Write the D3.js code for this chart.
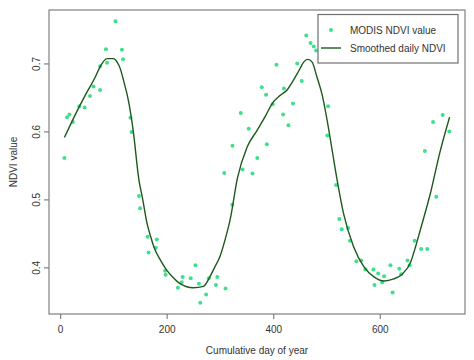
<!DOCTYPE html>
<html>
<head>
<meta charset="utf-8">
<script src="https://cdn.jsdelivr.net/npm/d3@7"></script>
<style>
  html, body { margin: 0; padding: 0; background: #fff; }
  svg text { font-family: "Liberation Sans Narrow", "Liberation Sans", Arial, sans-serif; fill: #333; }
</style>
</head>
<body>
<svg id="chart" width="474" height="360"></svg>
<script>
// Observed MODIS NDVI values (cumulative day, NDVI)
const obsDays = [8,13,17.5,24,36,46,56,62.5,75,75,86,88,104,116,118,132,134,148,150,164,166,181.5,179.5,197,198,221,228,230,245,254,260.5,263,274,279,295,292.5,310.5,323,308,323.5,339,342.5,354,361,370,378.5,386.5,388,399,406,420,418.5,428.5,437,445,453.5,462,470,476,480.5,503,501.5,518,524,528.5,540.5,544,556,565,573,588,597,608,590,604.5,620,624,636.5,640,656,652,665.5,677.5,689,684.5,706,700,718,730.5];
const obsNdvi = [0.561,0.621,0.625,0.614,0.637,0.635,0.652,0.666,0.661,0.696,0.721,0.701,0.762,0.720,0.706,0.620,0.599,0.505,0.487,0.445,0.422,0.441,0.429,0.395,0.389,0.370,0.378,0.386,0.384,0.403,0.376,0.348,0.360,0.384,0.386,0.374,0.369,0.492,0.539,0.579,0.627,0.544,0.604,0.538,0.561,0.665,0.654,0.581,0.640,0.698,0.663,0.625,0.609,0.641,0.700,0.674,0.741,0.730,0.725,0.719,0.637,0.594,0.521,0.471,0.456,0.458,0.439,0.409,0.410,0.397,0.397,0.391,0.387,0.374,0.378,0.403,0.363,0.398,0.390,0.403,0.410,0.439,0.427,0.427,0.571,0.504,0.614,0.624,0.600];

// Smoothed daily NDVI curve (sampled)
const smoothDays = [8,28,47,66,75,88,100,107,113,119,128,137,148,155,163,170,176,188,200,212,225,250,269,281,290,300,310,319,333,351,370,385,398,413,426,436,445,452,457,465,473,482,492,501,510,520,532,551,570,589,608,626,642,658,667,676,695,713,731];
const smoothNdvi = [0.591,0.624,0.653,0.680,0.695,0.707,0.707,0.702,0.692,0.675,0.646,0.602,0.528,0.500,0.465,0.445,0.430,0.411,0.396,0.385,0.376,0.370,0.372,0.386,0.400,0.416,0.442,0.470,0.532,0.577,0.602,0.622,0.641,0.653,0.661,0.673,0.685,0.695,0.702,0.706,0.702,0.680,0.653,0.617,0.575,0.528,0.479,0.430,0.401,0.386,0.380,0.383,0.390,0.408,0.430,0.455,0.509,0.570,0.621];

const xTicks = [0, 200, 400, 600];
const yTicks = [0.4, 0.5, 0.6, 0.7];
const legendLabels = ["MODIS NDVI value", "Smoothed daily NDVI"];
const xTitle = "Cumulative day of year";
const yTitle = "NDVI value";

const svg = d3.select("#chart");
const plot = { left: 49, top: 10, right: 465, bottom: 314 };

const x = d3.scaleLinear().domain([-20.9, 759.9]).range([plot.left, plot.right]);
const y = d3.scaleLinear().domain([0.3314, 0.7786]).range([plot.bottom, plot.top]);

const frameColor = "#808080";
const pointColor = "#3fe08c";
const lineColor = "#1d5a1d";

// Points
svg.append("g").selectAll("circle")
  .data(obsDays.map((d, i) => [d, obsNdvi[i]]))
  .join("circle")
  .attr("cx", d => x(d[0]))
  .attr("cy", d => y(d[1]))
  .attr("r", 2)
  .attr("fill", pointColor);

// Smoothed line
const line = d3.line().x(d => x(d[0])).y(d => y(d[1])).curve(d3.curveMonotoneX);
svg.append("path")
  .datum(smoothDays.map((d, i) => [d, smoothNdvi[i]]))
  .attr("d", line)
  .attr("fill", "none")
  .attr("stroke", lineColor)
  .attr("stroke-width", 1.4);

// Frame
svg.append("rect")
  .attr("x", plot.left).attr("y", plot.top)
  .attr("width", plot.right - plot.left).attr("height", plot.bottom - plot.top)
  .attr("fill", "none").attr("stroke", frameColor).attr("stroke-width", 1.2);

// X axis
const xAxis = svg.append("g")
  .attr("transform", `translate(0,${plot.bottom})`)
  .call(d3.axisBottom(x).tickValues(xTicks).tickSize(5).tickPadding(7).tickFormat(d3.format("d")));
xAxis.select(".domain").remove();
xAxis.selectAll("line").attr("stroke", frameColor).attr("stroke-width", 1.2);
xAxis.selectAll("text").attr("font-size", 10).style("fill", "#333");

// Y axis (rotated labels)
const yAxis = svg.append("g")
  .attr("transform", `translate(${plot.left},0)`)
  .call(d3.axisLeft(y).tickValues(yTicks).tickSize(5).tickFormat(d3.format(".1f")));
yAxis.select(".domain").remove();
yAxis.selectAll("line").attr("stroke", frameColor).attr("stroke-width", 1.2);
yAxis.selectAll("text")
  .attr("font-size", 10)
  .attr("x", null).attr("dy", null)
  .attr("text-anchor", "middle")
  .attr("transform", "translate(-13,0) rotate(-90)")
  .attr("dy", "0.35em")
  .style("fill", "#333");

// Axis titles
svg.append("text")
  .attr("x", (plot.left + plot.right) / 2).attr("y", 354)
  .attr("text-anchor", "middle").attr("font-size", 10)
  .text(xTitle);
svg.append("text")
  .attr("transform", `translate(17,${(plot.top + plot.bottom) / 2}) rotate(-90)`)
  .attr("text-anchor", "middle").attr("font-size", 10)
  .text(yTitle);

// Legend
const lg = svg.append("g");
lg.append("rect")
  .attr("x", 318).attr("y", 14.5).attr("width", 140).attr("height", 48.5)
  .attr("fill", "#fff").attr("stroke", "#707070").attr("stroke-width", 1.2);
lg.append("circle").attr("cx", 331).attr("cy", 30).attr("r", 2).attr("fill", pointColor);
lg.append("line").attr("x1", 321).attr("x2", 341).attr("y1", 48).attr("y2", 48)
  .attr("stroke", lineColor).attr("stroke-width", 1.4);
lg.selectAll("text.leg")
  .data(legendLabels)
  .join("text")
  .attr("class", "leg")
  .attr("x", 350)
  .attr("y", (d, i) => 30 + i * 18)
  .attr("dy", "0.35em")
  .attr("font-size", 10)
  .text(d => d);
</script>
</body>
</html>
